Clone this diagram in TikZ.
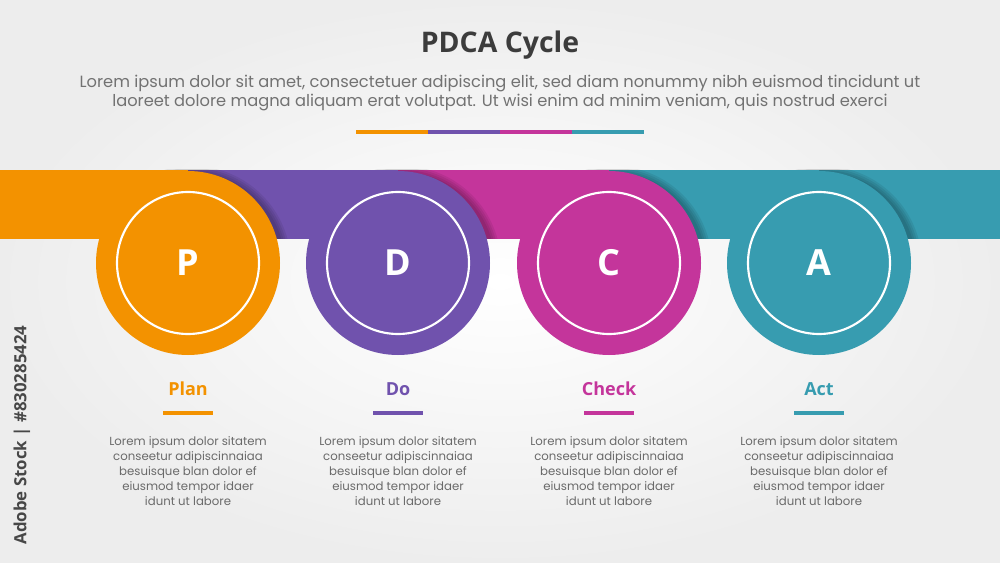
\documentclass[tikz,border=0pt]{standalone}
\usepackage{fontspec}
\setmainfont{Poppins}
\newfontfamily\headfont{Open Sans}
\definecolor{cP}{HTML}{F39200}
\definecolor{cD}{HTML}{7052AD}
\definecolor{cC}{HTML}{C4359B}
\definecolor{cA}{HTML}{379CB0}
\definecolor{titlecol}{HTML}{3C3C3C}
\definecolor{subcol}{HTML}{727272}
\definecolor{bodycol}{HTML}{6A6A6A}
\tikzset{
  stepcirc/.style={circle, minimum size=138pt, inner sep=0pt, text=white,
    font=\headfont\bfseries\fontsize{27}{30}\selectfont},
  ring/.style={white, line width=1.6pt},
  shadowfill/.style={black, opacity=0.07},
  steplabel/.style={font=\headfont\bfseries\fontsize{13.5}{16}\selectfont},
  underbar/.style={line width=2.4pt},
  bodytext/.style={align=center, text=bodycol, font=\fontsize{8.8}{11.25}\selectfont},
}
\newcommand{\stepshadow}[2]{%
  \begin{scope}
    \clip (0,170) rectangle (1000,239);
    \foreach \rr in {1,3,5,7}{\fill[shadowfill] (#1+4,#2+2) circle[radius={0.75pt*(92+\rr)}];}
  \end{scope}}
\begin{document}
\begin{tikzpicture}[x=0.75pt,y=-0.75pt]
\useasboundingbox (0,0) rectangle (1000,563);
\shade[inner color=white, outer color=black!7] (0,0) rectangle (1000,563);

% title and subtitle
\node[text=titlecol, font=\headfont\bfseries\fontsize{21.3}{24}\selectfont] (title) at (500,45) {PDCA Cycle};
\node[align=center, text=subcol, font=\fontsize{12.2}{14.25}\selectfont] (sub) at (500,93)
  {Lorem ipsum dolor sit amet, consectetuer adipiscing elit, sed diam nonummy nibh euismod tincidunt ut\\
   laoreet dolore magna aliquam erat volutpat. Ut wisi enim ad minim veniam, quis nostrud exerci};
\coordinate (b0) at (356,132);
\coordinate (b1) at (428,132);
\coordinate (b2) at (500,132);
\coordinate (b3) at (572,132);
\coordinate (b4) at (644,132);
\draw[cP, line width=3pt] (b0) -- (b1);
\draw[cD, line width=3pt] (b1) -- (b2);
\draw[cC, line width=3pt] (b2) -- (b3);
\draw[cA, line width=3pt] (b3) -- (b4);

% band and circles (back to front)
\fill[cA] (819,170) rectangle (1000,239);
\stepshadow{819}{263}
\fill[cA] (609,170) rectangle (819,239);
\node[stepcirc, fill=cA] (nA) at (819,263) {A};
\draw[ring] (nA.center) circle[radius=53.25pt];

\stepshadow{609}{263}
\fill[cC] (398,170) rectangle (609,239);
\node[stepcirc, fill=cC] (nC) at (609,263) {C};
\draw[ring] (nC.center) circle[radius=53.25pt];

\stepshadow{398}{263}
\fill[cD] (188,170) rectangle (398,239);
\node[stepcirc, fill=cD] (nD) at (398,263) {D};
\draw[ring] (nD.center) circle[radius=53.25pt];

\stepshadow{188}{263}
\fill[cP] (0,170) rectangle (188,239);
\node[stepcirc, fill=cP] (nP) at (188,263) {P};
\draw[ring] (nP.center) circle[radius=53.25pt];

% labels, bars, body texts
\foreach \x/\c/\lab/\nm in {188/cP/Plan/P,398/cD/Do/D,609/cC/Check/C,819/cA/Act/A}{
  \node[steplabel, text=\c] (lab\nm) at (\x,389) {\lab};
  \coordinate (ul\nm) at (\x-25,413);
  \coordinate (ur\nm) at (\x+25,413);
  \draw[underbar, \c] (ul\nm) -- (ur\nm);
  \node[bodytext] (txt\nm) at (\x,471) {Lorem ipsum dolor sitatem\\conseetur adipiscinnaiaa\\besuisque blan dolor ef\\eiusmod tempor idaer\\idunt ut labore};
}

% vertical stock mark
\node[rotate=90, text=black!72, font=\headfont\bfseries\fontsize{12.6}{14}\selectfont] (wm) at (22,435) {Adobe Stock | \#830285424};
\end{tikzpicture}
\end{document}
